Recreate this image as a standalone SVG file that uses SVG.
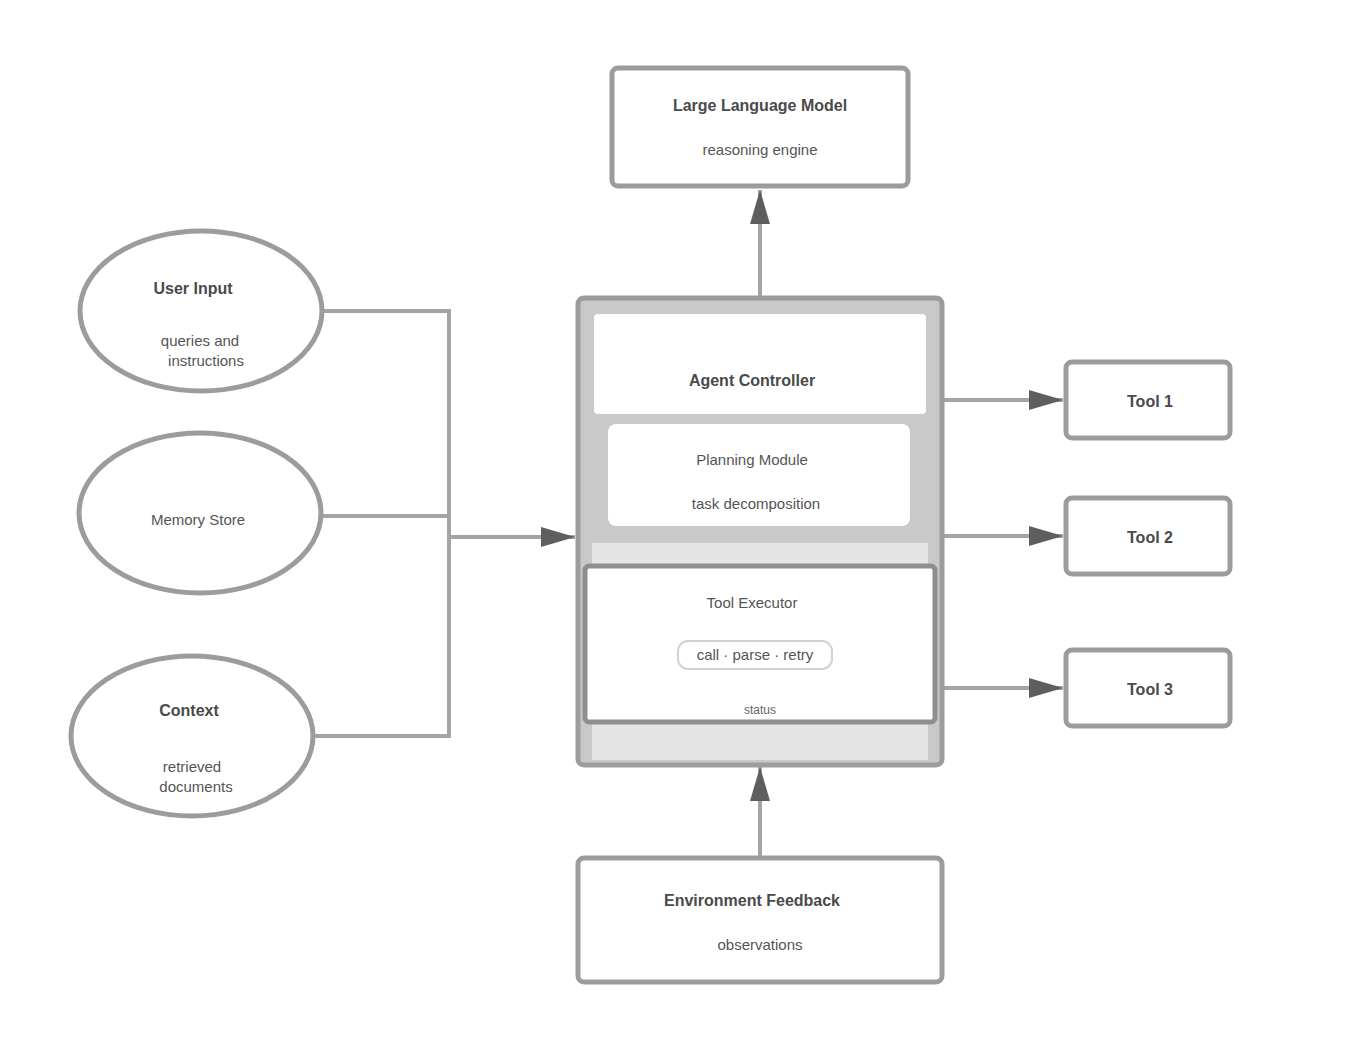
<svg xmlns="http://www.w3.org/2000/svg" width="1358" height="1054" viewBox="0 0 1358 1054">
<defs>
<style>
.box{fill:#ffffff;stroke:#9c9c9c;stroke-width:5}
.ell{fill:#ffffff;stroke:#9c9c9c;stroke-width:5}
.wire{fill:none;stroke:#a4a4a4;stroke-width:4}
.t{font-family:"Liberation Sans",Arial,sans-serif;font-size:15px;fill:#555555;text-anchor:middle}
.tb{font-family:"Liberation Sans",Arial,sans-serif;font-size:16px;font-weight:bold;fill:#4a4a4a;text-anchor:middle}
.ts{font-family:"Liberation Sans",Arial,sans-serif;font-size:12px;fill:#666666;text-anchor:middle}
</style>
<marker id="arr" markerUnits="userSpaceOnUse" markerWidth="34" markerHeight="20" refX="34" refY="10" orient="auto">
<path d="M0,0 L34,10 L0,20 z" fill="#5e5e5e"/>
</marker>
</defs>
<rect width="1358" height="1054" fill="#ffffff"/>

<g id="connectors">
<path class="wire" d="M322,311 H449 V537"/>
<path class="wire" d="M322,516 H449"/>
<path class="wire" d="M312,736 H449 V537"/>
<path class="wire" d="M449,537 H575" marker-end="url(#arr)"/>
<path class="wire" d="M760,296 V190" marker-end="url(#arr)"/>
<path class="wire" d="M760,858 V767" marker-end="url(#arr)"/>
<path class="wire" d="M942,400 H1063" marker-end="url(#arr)"/>
<path class="wire" d="M942,536 H1063" marker-end="url(#arr)"/>
<path class="wire" d="M942,688 H1063" marker-end="url(#arr)"/>
</g>

<g id="top-node">
<rect class="box" x="612" y="68" width="296" height="118" rx="6"/>
<text class="tb" x="760" y="111">Large Language Model</text>
<text class="t" x="760" y="155">reasoning engine</text>
</g>

<g id="input-user">
<ellipse class="ell" cx="201" cy="311" rx="121" ry="80"/>
<text class="tb" x="193" y="294">User Input</text>
<text class="t" x="200" y="346">queries and</text>
<text class="t" x="206" y="366">instructions</text>
</g>

<g id="input-memory">
<ellipse class="ell" cx="200" cy="513" rx="121" ry="80"/>
<text class="t" x="198" y="525">Memory Store</text>
</g>

<g id="input-context">
<ellipse class="ell" cx="192" cy="736" rx="121" ry="80"/>
<text class="tb" x="189" y="716">Context</text>
<text class="t" x="192" y="772">retrieved</text>
<text class="t" x="196" y="792">documents</text>
</g>

<g id="agent">
<rect x="578" y="298" width="364" height="467" rx="6" fill="#c9c9c9" stroke="#9c9c9c" stroke-width="5"/>
<g id="agent-controller">
<rect x="594" y="314" width="332" height="100" rx="4" fill="#ffffff"/>
<text class="tb" x="752" y="386">Agent Controller</text>
</g>
<g id="planning">
<rect x="608" y="424" width="302" height="102" rx="8" fill="#ffffff"/>
<text class="t" x="752" y="465">Planning Module</text>
<text class="t" x="756" y="509">task decomposition</text>
</g>
<g id="executor">
<rect x="592" y="543" width="336" height="217" fill="#e4e4e4"/>
<rect x="585" y="566" width="350" height="156" rx="4" fill="#ffffff" stroke="#8e8e8e" stroke-width="5"/>
<text class="t" x="752" y="608">Tool Executor</text>
<rect x="678" y="641" width="154" height="28" rx="10" fill="#ffffff" stroke="#d2d2d2" stroke-width="2"/>
<text class="t" x="755" y="660">call · parse · retry</text>
<text class="ts" x="760" y="714">status</text>
</g>
</g>

<g id="tool-1">
<rect class="box" x="1066" y="362" width="164" height="76" rx="6"/>
<text class="tb" x="1150" y="407">Tool 1</text>
</g>
<g id="tool-2">
<rect class="box" x="1066" y="498" width="164" height="76" rx="6"/>
<text class="tb" x="1150" y="543">Tool 2</text>
</g>
<g id="tool-3">
<rect class="box" x="1066" y="650" width="164" height="76" rx="6"/>
<text class="tb" x="1150" y="695">Tool 3</text>
</g>

<g id="bottom-node">
<rect class="box" x="578" y="858" width="364" height="124" rx="6"/>
<text class="tb" x="752" y="906">Environment Feedback</text>
<text class="t" x="760" y="950">observations</text>
</g>
</svg>
